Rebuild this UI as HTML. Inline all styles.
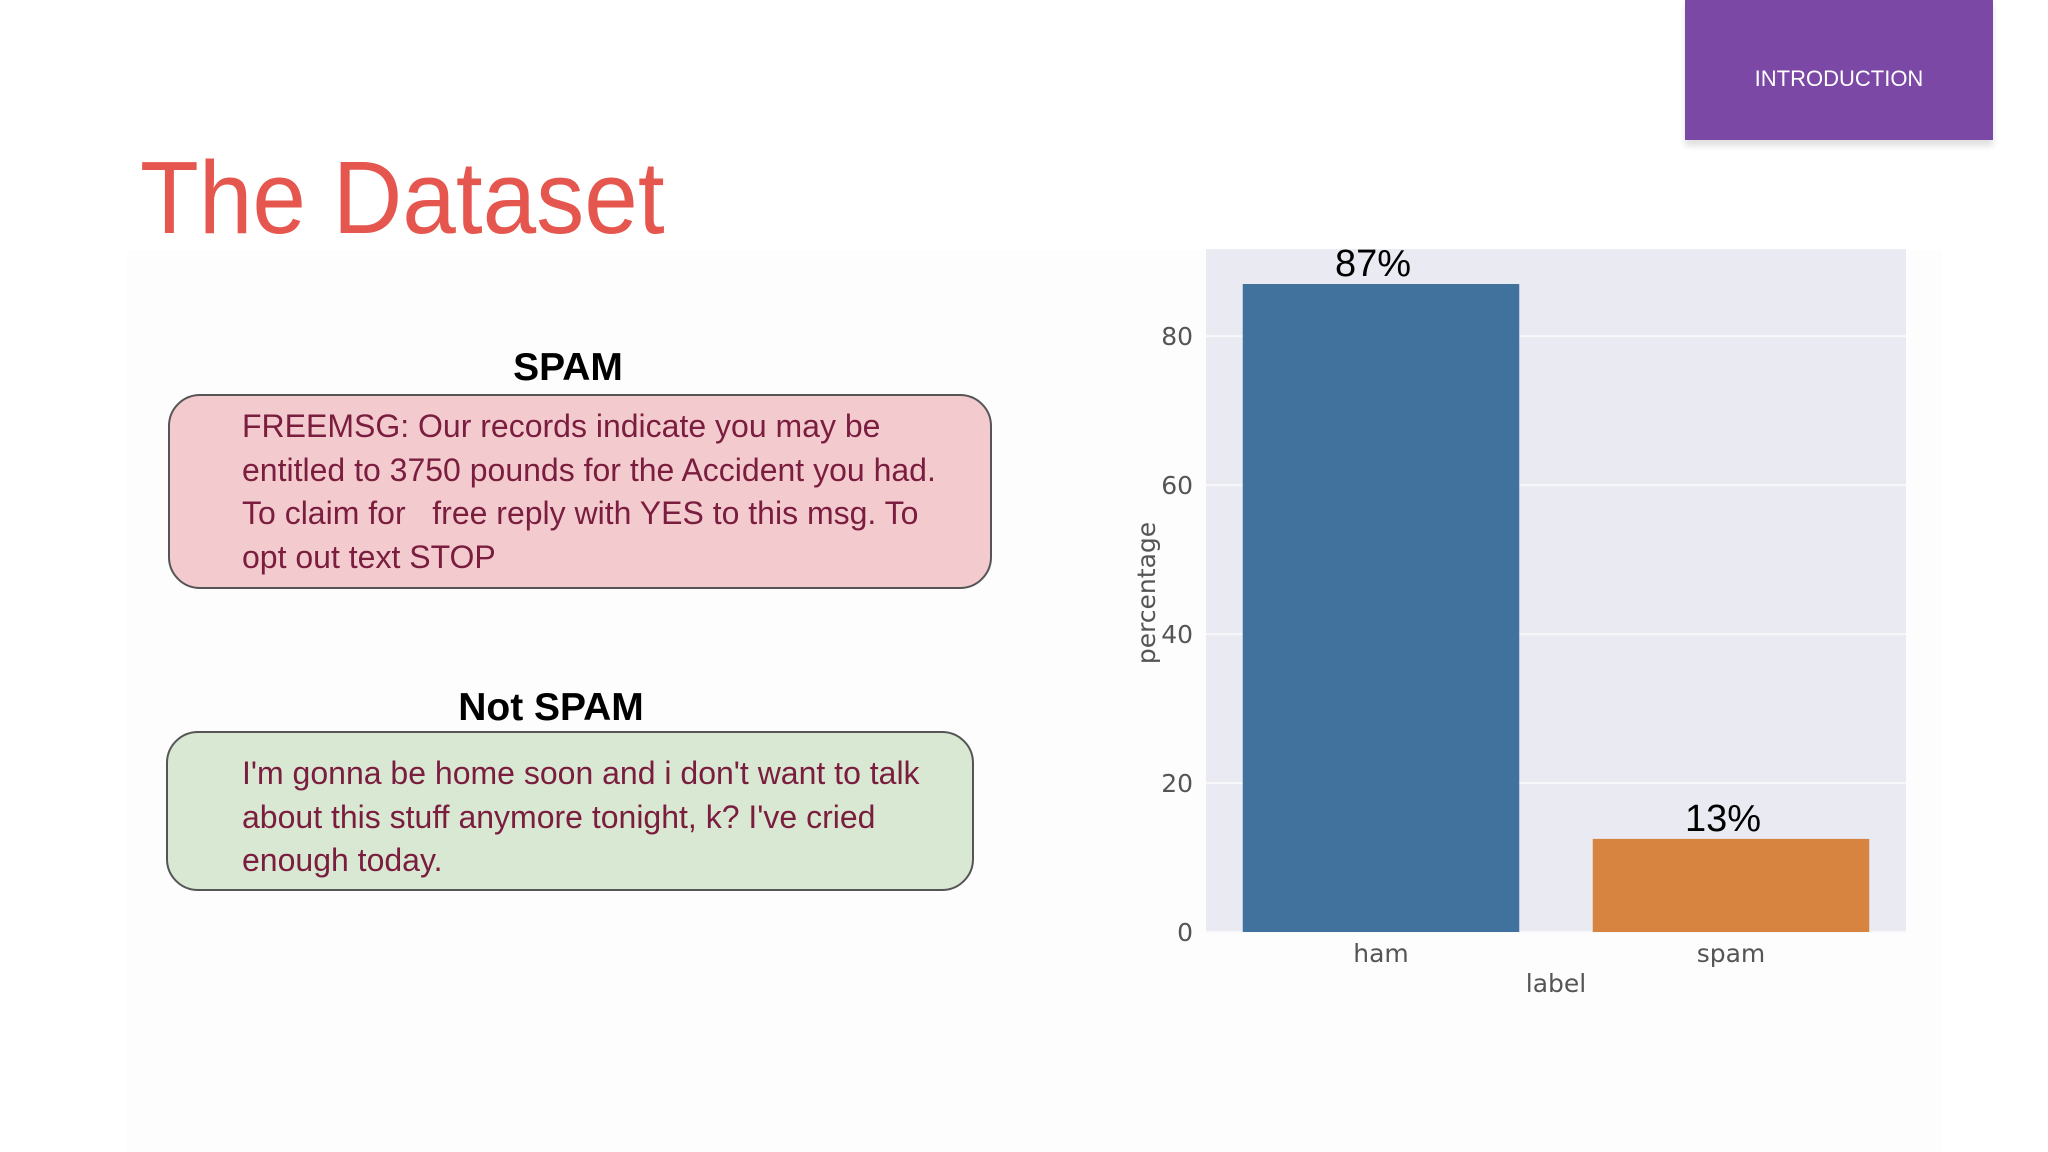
<!DOCTYPE html>
<html><head><meta charset="utf-8"><style>
html,body{margin:0;padding:0;background:#fff;}
body{width:2048px;height:1152px;position:relative;overflow:hidden;font-family:"Liberation Sans",sans-serif;}
.abs{position:absolute;}
.panel{left:127px;top:250px;width:1815px;height:902px;background:#fdfdfd;}
.intro{left:1693px;top:0;width:308px;height:140px;background:#7c48a6;box-shadow:0 6px 6px rgba(0,0,0,0.12);color:#fff;font-size:22px;display:flex;align-items:center;justify-content:center;box-sizing:border-box;padding-top:18px;}
.title{left:140px;top:146px;font-size:103px;color:#e5574e;line-height:1;transform:scaleX(0.935);transform-origin:left top;}
.head{font-weight:bold;font-size:39px;color:#000;transform:translateX(-50%);line-height:1;}
.box{border:2px solid #555;border-radius:32px;box-sizing:border-box;}
.msg{font-size:32px;color:#7a1d3e;line-height:43.5px;white-space:pre;}
</style></head><body>
<div class="abs panel"></div>
<div class="abs intro" style="left:1685px">INTRODUCTION</div>
<div class="abs title">The Dataset</div>
<div class="abs head" style="left:568px;top:348px">SPAM</div>
<div class="abs box" style="left:168px;top:394px;width:824px;height:195px;background:#f3cbcf"></div>
<div class="abs msg" style="left:242px;top:405px">FREEMSG: Our records indicate you may be
entitled to 3750 pounds for the Accident you had.
To claim for   free reply with YES to this msg. To
opt out text STOP</div>
<div class="abs head" style="left:551px;top:688px">Not SPAM</div>
<div class="abs box" style="left:166px;top:731px;width:808px;height:160px;background:#d9e8d2"></div>
<div class="abs msg" style="left:242px;top:752px">I'm gonna be home soon and i don't want to talk
about this stuff anymore tonight, k? I've cried
enough today.</div>
<svg class="abs" style="left:0;top:0" width="2048" height="1152" id="chart"></svg>
<script>
const categories=["ham","spam"];
const values=[87,12.5];
const valueLabels=["87%","13%"];
const yTicks=[0,20,40,60,80];
const colors=["#41729d","#d6843f"];
const svg=document.getElementById('chart');
const NS="http://www.w3.org/2000/svg";
const x0=1206,x1=1906,y0=932,yTop=249,yMax=91.7;
const y=v=>y0-(v/yMax)*(y0-yTop);
const band=(x1-x0)/categories.length;
const xc=i=>x0+band*(i+0.5);
function mk(t,a,txt){const e=document.createElementNS(NS,t);for(const k in a)e.setAttribute(k,a[k]);if(txt!==undefined)e.textContent=txt;svg.appendChild(e);return e;}
let e=mk('rect',{x:x0,y:yTop,width:x1-x0,height:y0-yTop,fill:'#eaeaf2'});


yTicks.forEach(t=>{
 let g=mk('line',{x1:x0,x2:x1,y1:y(t),y2:y(t),stroke:'#f8f8fb','stroke-width':2});
 
 
 let l=mk('text',{x:1193,y:y(t)+9,'text-anchor':'end','font-size':25,fill:'#555','font-family':'DejaVu Sans, sans-serif'},String(t));
 
 
});
categories.forEach((c,i)=>{
 const w=band*0.79;
 let b=mk('rect',{x:xc(i)-w/2,y:y(values[i]),width:w,height:y0-y(values[i]),fill:colors[i]});
 
 
 let v=mk('text',{x:xc(i)-8,y:y(values[i])-8,'text-anchor':'middle','font-size':38,fill:'#000','font-family':'Liberation Sans, sans-serif'},valueLabels[i]);
 
 
 let t=mk('text',{x:xc(i),y:962,'text-anchor':'middle','font-size':25,fill:'#555','font-family':'DejaVu Sans, sans-serif'},c);
 
 
});
let xl=mk('text',{x:1556,y:992,'text-anchor':'middle','font-size':25,fill:'#555','font-family':'DejaVu Sans, sans-serif'},'label');


let yl=mk('text',{x:1155,y:593,'text-anchor':'middle','font-size':25,fill:'#555','font-family':'DejaVu Sans, sans-serif',transform:'rotate(-90 1155 593)'},'percentage');


</script>
</body></html>
